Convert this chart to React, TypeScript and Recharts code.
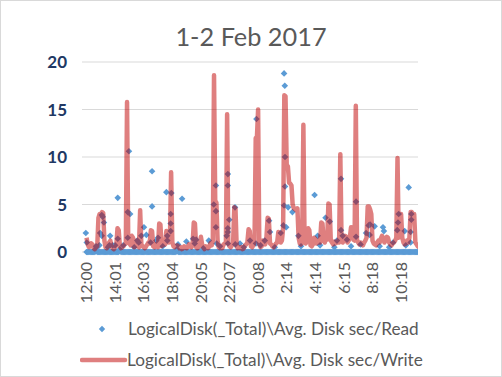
import { ComposedChart, Line, Scatter, XAxis, YAxis, CartesianGrid } from "recharts";

// x axis: one sample slot every ~5 minutes, labelled every 24 slots
const TICK_POS = [0, 24, 48, 72, 96, 120, 144, 168, 192, 216, 240, 264];
const TICK_LABELS = ["12:00", "14:01", "16:03", "18:04", "20:05", "22:07", "0:08", "2:14", "4:14", "6:15", "8:18", "10:18"];
const X_DOMAIN = [-3.8, 278.2];

// Avg. Disk sec/Write, one value per slot (right axis)
const WRITE = [
  1.5, 0.8, 0.5, 0.6, 0.9, 0.8, 0.4, 0.3, 0.5, 0.6, 3.6, 4.0, 4.0, 4.2, 4.1, 1.2, 0.5, 0.4, 0.6, 1.0, 1.2, 0.6, 0.4, 0.3,
  0.5, 0.7, 2.5, 2.3, 0.6, 0.4, 0.5, 0.6, 0.8, 0.9, 15.8, 1.0, 0.9, 0.7, 1.7, 1.5, 0.5, 0.6, 1.2, 0.6, 0.5, 4.4, 0.8, 0.6,
  0.5, 0.4, 0.6, 0.8, 1.0, 0.9, 2.3, 2.2, 0.6, 0.5, 0.8, 0.7, 0.5, 3.0, 2.9, 0.6, 0.7, 0.9, 0.8, 2.2, 2.0, 1.0, 1.2, 8.4,
  1.0, 0.6, 0.5, 0.6, 0.7, 0.6, 0.4, 0.5, 0.3, 0.4, 0.6, 0.5, 0.4, 0.5, 0.8, 0.6, 0.5, 0.7, 3.1, 3.0, 0.5, 0.4, 0.5, 0.9,
  1.6, 0.8, 0.5, 0.3, 0.6, 0.5, 0.4, 0.6, 0.9, 0.7, 1.2, 18.6, 5.4, 5.2, 1.2, 0.5, 0.4, 0.6, 0.4, 0.8, 0.9, 1.0, 14.5, 1.0,
  0.6, 0.5, 0.7, 0.9, 4.7, 4.6, 0.6, 0.4, 0.5, 0.4, 0.5, 0.3, 0.4, 0.7, 0.8, 1.0, 2.4, 2.2, 0.6, 0.5, 0.7, 1.0, 12.0, 12.0,
  15.0, 0.8, 0.5, 0.6, 1.2, 1.0, 0.8, 1.5, 3.6, 3.5, 0.9, 0.8, 0.6, 0.5, 0.7, 0.9, 1.0, 2.1, 2.0, 1.0, 1.2, 2.5, 16.5, 16.4,
  9.2, 9.0, 7.3, 7.2, 7.0, 5.0, 4.6, 4.5, 4.4, 4.6, 1.5, 0.9, 0.8, 1.0, 13.4, 1.0, 0.9, 1.2, 2.5, 2.3, 0.7, 0.6, 0.8, 1.5,
  1.4, 0.9, 1.0, 1.2, 1.0, 3.1, 3.0, 1.2, 1.0, 1.5, 1.3, 5.1, 5.0, 1.2, 1.0, 0.8, 1.1, 0.9, 1.0, 1.2, 1.0, 10.3, 1.5, 1.0,
  1.2, 1.7, 1.6, 1.0, 1.2, 1.5, 2.6, 2.4, 1.3, 1.2, 15.4, 1.3, 1.0, 0.8, 1.0, 0.9, 0.7, 1.0, 1.2, 1.5, 4.8, 4.8, 4.5, 4.0,
  1.2, 0.9, 0.8, 0.7, 1.0, 1.2, 1.0, 1.4, 1.7, 1.5, 1.0, 1.2, 1.6, 1.5, 1.0, 0.8, 0.7, 0.9, 1.0, 1.2, 1.5, 9.9, 1.5, 4.0,
  4.0, 1.5, 1.0, 0.8, 0.9, 1.2, 1.0, 1.5, 4.2, 4.2, 4.0, 4.0, 1.0, 0.8, 0.6, 0.5, 0.4,
];

// Avg. Disk sec/Read, low readings one per slot (left axis)
const READ_LOW = [
  0, 0, 0, 0, 0, 0, 0, 0, 0.4, 0, 0, 0, 0, 0, 0, 0, 0, 0, 0, 0, 0, 0, 0, 0,
  0, 0, 0, 0, 0.3, 0, 0, 0, 0, 0, 0, 0, 0, 0, 0, 0, 0, 0, 0, 0, 0, 0, 0, 0,
  0, 0, 0, 0, 0, 0, 0, 0, 0, 0, 0, 0, 0, 0, 0, 0, 0, 0, 0, 0, 0, 0, 0, 0,
  0, 0, 0, 0, 0.3, 0, 0, 0, 0, 0, 0, 0, 0, 0, 0, 0, 0, 0, 0, 0, 0, 0, 0, 0,
  0, 0, 0, 0, 0, 0, 0, 0, 0, 0, 0, 0, 0, 0, 0, 0, 0, 0, 0, 0, 0, 0, 0, 0,
  0, 0, 0, 0, 0, 0, 0, 0, 0, 0, 0, 0, 0, 0, 0, 0, 0, 0, 0, 0, 0, 0, 0, 0,
  0, 0, 0, 0, 0, 0, 0, 0, 0, 0, 0, 0, 0, 0, 0, 0, 0, 0, 0, 0, 0, 0, 0, 0,
  0, 0, 0, 0, 0, 0, 0, 0, 0, 0, 0, 0, 0, 0, 0, 0, 0, 0, 0, 0, 0, 0, 0, 0,
  0, 0, 0, 0, 0, 0, 0, 0, 0, 0, 0, 0, 0, 0, 0, 0, 0, 0, 0, 0, 0, 0, 0, 0,
  0, 0, 0, 0, 0, 0, 0, 0, 0, 0, 0, 0, 0, 0, 0, 0, 0, 0, 0, 0, 0, 0, 0, 0,
  0, 0, 0, 0, 0, 0, 0, 0, 0, 0, 0, 0, 0, 0, 0, 0, 0, 0, 0, 0, 0, 0, 0, 0,
  0, 0, 0, 0, 0, 0, 0, 0, 0, 0, 0, 0, 0, 0, 0, 0, 0,
];

// Avg. Disk sec/Read, the higher readings (slot position, value)
const READ_T = [
  -0.6, 0.2, 12.8, 13.6, 14.6, 11.4, 12.8, 10.8, 19.8, 19.2, 26.2, 26.2, 24.0, 30.8, 35.6, 34.6, 36.6, 34.6, 42.6, 43.8,
  48.2, 50.2, 46.0, 55.0, 55.0, 53.8, 58.6, 60.0, 67.0, 71.2, 70.6, 70.6, 70.6, 67.8, 67.8, 80.2, 76.8, 83.8, 89.4, 90.8,
  92.0, 102.6, 106.8, 108.6, 108.6, 108.6, 109.2, 118.6, 118.6, 119.8, 118.6, 118.6, 117.6, 118.6, 124.6, 124.8, 128.8, 137.2, 142.6, 142.2,
  149.6, 153.2, 154.0, 163.0, 165.8, 166.4, 166.6, 166.6, 165.8, 169.2, 172.8, 165.2, 167.6, 177.8, 191.4, 194.0, 200.6, 204.2, 210.2, 213.6,
  213.6, 215.0, 218.6, 226.2, 226.2, 234.6, 236.8, 238.0, 237.6, 241.8, 248.8, 249.6, 257.2, 262.0, 261.4, 260.8, 267.0, 270.4, 272.6, 272.6,
  272.0, 272.0,
  8.0, 18.0, 22.0, 40.0, 64.0, 98.0, 112.0, 132.0, 146.0, 158.0, 180.0, 196.0, 208.0, 222.0, 230.0, 246.0, 254.0, 268.0,
];
const READ_V = [
  2.0, 1.0, 3.9, 3.7, 3.1, 2.0, 1.7, 0.7, 1.7, 0.7, 5.7, 1.4, 0.7, 0.7, 10.6, 4.2, 4.0, 1.5, 1.2, 1.0,
  2.6, 1.8, 1.7, 8.5, 4.8, 1.0, 1.2, 1.5, 6.3, 6.2, 4.0, 3.0, 2.2, 1.7, 1.2, 5.6, 0.8, 1.1, 1.4, 0.9,
  1.3, 1.2, 5.0, 7.0, 4.3, 2.6, 0.9, 8.2, 7.0, 3.4, 2.5, 2.1, 1.7, 0.9, 4.7, 0.8, 0.9, 1.2, 14.0, 0.9,
  1.2, 3.3, 2.1, 2.0, 18.8, 17.5, 10.0, 6.9, 4.9, 4.7, 4.2, 2.8, 2.6, 1.7, 6.0, 1.7, 3.6, 3.2, 1.2, 7.7,
  2.3, 1.7, 1.3, 5.3, 1.6, 2.0, 2.8, 2.9, 1.8, 2.7, 2.6, 2.2, 1.0, 4.0, 3.1, 2.3, 2.2, 6.8, 4.0, 3.4,
  2.1, 1.0,
  0.6, 0.5, 0.7, 0.5, 0.6, 0.4, 0.6, 0.5, 0.7, 0.5, 0.6, 0.7, 0.5, 0.6, 0.8, 0.6, 0.5, 0.7,
];

const Y_TICKS = [0, 5, 10, 15, 20];

const writeData = WRITE.map((w, i) => ({ t: i, w }));
const readData = [
  ...READ_LOW.map((v, i) => ({ t: i, v })),
  ...READ_T.map((t, i) => ({ t, v: READ_V[i] })),
];

const FONT = "Lato, 'Open Sans', sans-serif";
const GREY = "#595959";
const BLUE = "#5b9bd5";
const MARGIN = { top: 62, right: 54, bottom: 65, left: 52 };

const Diamond = (props: any) => {
  const { cx, cy } = props;
  if (cx == null || cy == null) return null;
  const r = 3.3;
  return <path d={`M${cx},${cy - r}L${cx + r},${cy}L${cx},${cy + r}L${cx - r},${cy}Z`} fill={BLUE} />;
};

const TimeTick = (props: any) => {
  const { x, y, payload } = props;
  const idx = TICK_POS.indexOf(payload.value);
  return (
    <text
      x={x}
      y={y}
      transform={`rotate(-90, ${x}, ${y})`}
      textAnchor="end"
      dy="0.36em"
      fill={GREY}
      fontSize={16}
      fontFamily={FONT}
    >
      {idx >= 0 ? TICK_LABELS[idx] : ""}
    </text>
  );
};

export default function App() {
  return (
    <div style={{ position: "absolute", left: 0, top: 0, width: 502, height: 377, background: "#fff" }}>
      <div
        style={{
          position: "absolute", left: 0, top: 21, width: 502, textAlign: "center",
          fontFamily: FONT, fontSize: 25.3, lineHeight: "30px", color: GREY,
        }}
      >
        1-2 Feb 2017
      </div>
      {/* axes, grid and the Read markers */}
      <div style={{ position: "absolute", left: 0, top: 0 }}>
        <ComposedChart width={502} height={377} data={writeData} margin={MARGIN}>
          <CartesianGrid yAxisId="left" vertical={false} stroke="#d9d9d9" strokeWidth={1} />
          <XAxis
            dataKey="t"
            type="number"
            domain={X_DOMAIN}
            ticks={TICK_POS}
            interval={0}
            allowDataOverflow
            axisLine={false}
            tickLine={false}
            tickSize={0}
            tickMargin={10}
            height={60}
            tick={<TimeTick />}
          />
          <YAxis
            yAxisId="left"
            orientation="left"
            domain={[0, 20]}
            ticks={Y_TICKS}
            width={30}
            axisLine={false}
            tickLine={false}
            tickSize={0}
            tickMargin={15}
            tick={{ fill: "#203864", fontSize: 17, fontWeight: 700, fontFamily: FONT }}
          />
          <YAxis
            yAxisId="right"
            orientation="right"
            domain={[0, 20]}
            ticks={Y_TICKS}
            width={30}
            axisLine={false}
            tickLine={false}
            tickSize={0}
            tickMargin={17}
            tick={{ fill: "#c00000", fontSize: 17, fontWeight: 700, fontFamily: FONT }}
          />
          <Scatter yAxisId="left" data={readData} dataKey="v" shape={<Diamond />} isAnimationActive={false} />
        </ComposedChart>
      </div>
      {/* Write line laid over the markers, same plot box */}
      <div style={{ position: "absolute", left: 0, top: 0 }}>
        <ComposedChart
          width={502}
          height={377}
          data={writeData}
          margin={{ top: MARGIN.top, right: MARGIN.right + 30, bottom: MARGIN.bottom + 60, left: MARGIN.left + 30 }}
        >
          <XAxis dataKey="t" type="number" domain={X_DOMAIN} allowDataOverflow hide />
          <YAxis yAxisId="right" domain={[0, 20]} hide />
          <Line
            yAxisId="right"
            dataKey="w"
            type="linear"
            stroke="#c00000"
            strokeOpacity={0.5}
            strokeWidth={4.5}
            strokeLinejoin="round"
            dot={false}
            activeDot={false}
            isAnimationActive={false}
          />
        </ComposedChart>
      </div>
      <div style={{ position: "absolute", left: 0, top: 0, fontFamily: FONT, fontSize: 17.2, color: GREY }}>
        <svg style={{ position: "absolute", left: 97, top: 324 }} width={10} height={10}>
          <path d="M5,1.8L8.2,5L5,8.2L1.8,5Z" fill={BLUE} />
        </svg>
        <div style={{ position: "absolute", left: 128, top: 318, whiteSpace: "nowrap", lineHeight: "21px" }}>
          LogicalDisk(_Total)\Avg. Disk sec/Read
        </div>
        <svg style={{ position: "absolute", left: 80, top: 355 }} width={48} height={10}>
          <line x1={2} y1={5} x2={45} y2={5} stroke="#c00000" strokeOpacity={0.5} strokeWidth={4.5} strokeLinecap="round" />
        </svg>
        <div style={{ position: "absolute", left: 127, top: 349, whiteSpace: "nowrap", lineHeight: "21px" }}>
          LogicalDisk(_Total)\Avg. Disk sec/Write
        </div>
      </div>
      <div
        style={{
          position: "absolute", left: 0, top: 0, width: 502, height: 377,
          boxSizing: "border-box", border: "1px solid #d9d9d9", pointerEvents: "none",
        }}
      />
    </div>
  );
}
